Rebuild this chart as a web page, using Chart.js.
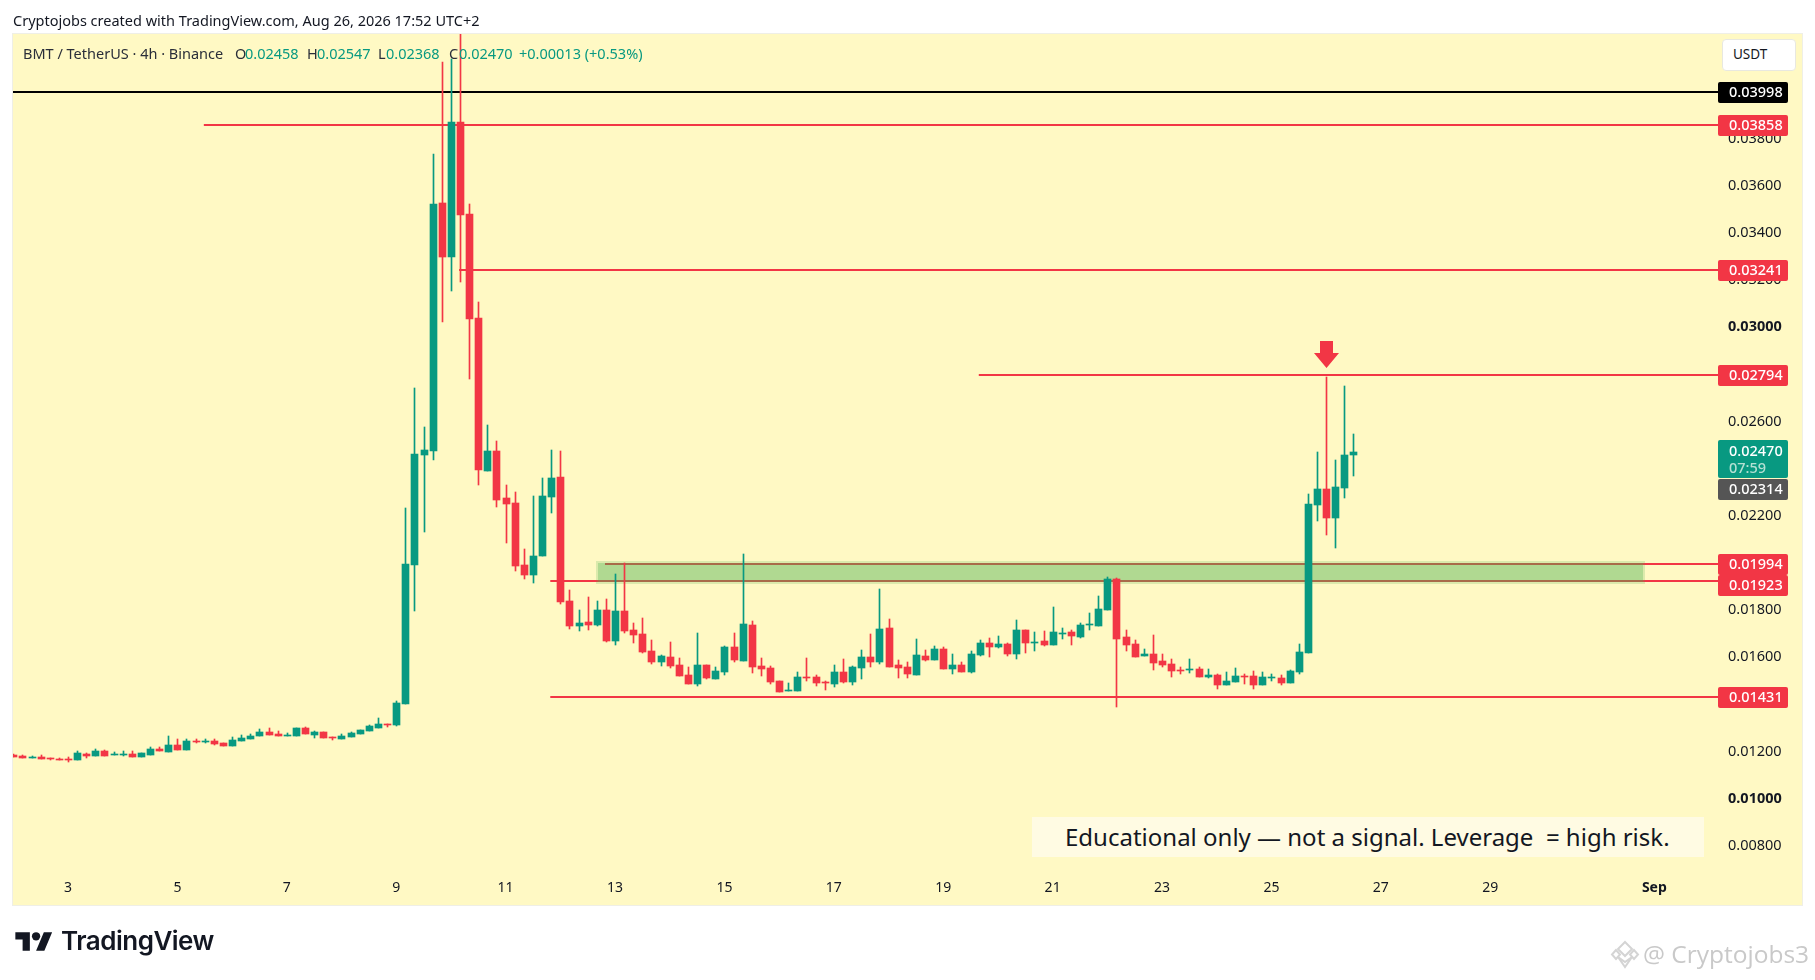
<!DOCTYPE html>
<html>
<head>
<meta charset="utf-8">
<title>BMT / TetherUS 4h</title>
<script src="https://cdn.jsdelivr.net/npm/chart.js@4/dist/chart.umd.min.js"></script>
<style>
    html, body { margin: 0; padding: 0; background: #fff; width: 1815px; height: 980px; overflow: hidden; }
    #chartCanvas { position: absolute; left: 0; top: 0; }
    .txt { position: absolute; white-space: pre; font-family: "Noto Sans", sans-serif; line-height: 1; }
    .lg { font-size: 14.5px; top: 46px; color: #089981; }
    .dark { color: #2a2e39; }
</style>
</head>
<body>
<canvas id="chartCanvas" width="1815" height="980"></canvas>

<div class="txt" style="left:13px;top:13px;font-size:14.5px;color:#131722">Cryptojobs created with TradingView.com, Aug 26, 2026 17:52 UTC+2</div>

<div class="txt lg dark" style="left:23px">BMT / TetherUS · 4h · Binance</div>
<div class="txt lg dark" style="left:235px">O</div><div class="txt lg" style="left:245px">0.02458</div>
<div class="txt lg dark" style="left:307px">H</div><div class="txt lg" style="left:317px">0.02547</div>
<div class="txt lg dark" style="left:378px">L</div><div class="txt lg" style="left:386px">0.02368</div>
<div class="txt lg dark" style="left:449px">C</div><div class="txt lg" style="left:459px">0.02470</div>
<div class="txt lg" style="left:519px">+0.00013 (+0.53%)</div>

<div class="txt" style="left:1722px;top:39px;width:72px;height:30px;background:#fff;border:1px solid #e8e8e0;border-radius:4px"></div>
<div class="txt" style="left:1733px;top:48px;font-size:13.5px;color:#131722">USDT</div>

<div class="txt" style="left:1032px;top:817px;width:672px;height:40px;background:#fffbe3"></div>
<div class="txt" id="note" style="left:1065px;top:825px;font-size:24px;color:#131722">Educational only — not a signal. Leverage  = high risk.</div>

<svg style="position:absolute;left:15px;top:928px" width="38" height="29" viewBox="0 0 36 28"><path d="M14 22H7V11H0V4h14v18zM28 22h-8l7.5-18h8L28 22z" fill="#131722"/><circle cx="20" cy="8" r="4" fill="#131722"/></svg>
<div class="txt" style="left:61px;top:928px;font-family:Inter,sans-serif;font-weight:600;font-size:26px;letter-spacing:-0.5px;color:#131722">TradingView</div>

<svg style="position:absolute;left:1610px;top:940px" width="30" height="29" viewBox="0 0 30 29" fill="none" stroke="#d4d4d4" stroke-width="2"><path d="M15 2l7 7-7 7-7-7z"/><path d="M6 10l-4 4.5 4 4.5 4-4.5z"/><path d="M24 10l-4 4.5 4 4.5 4-4.5z"/><path d="M8 17l7 10 7-10-7 5z"/></svg>
<div class="txt" style="left:1643px;top:942px;font-family:'Open Sans',sans-serif;font-size:24.5px;color:#c9c9c9">@ Cryptojobs3</div>

<script>
// 4h candles, first one is index -6 (2 Aug 00:00), index 0 is the "3" tick
const firstIndex = -6;

const opens = [0.01185,0.01181,0.01172,0.01176,0.01172,0.01168,0.01168,0.01164,0.01189,0.01181,0.01202,0.01185,0.01185,0.01189,0.01176,0.01185,0.01210,0.01198,0.01227,0.01206,0.01244,0.01240,0.01244,0.01236,0.01223,0.01244,0.01253,0.01266,0.01283,0.01274,0.01266,0.01266,0.01300,0.01270,0.01283,0.01261,0.01253,0.01261,0.01274,0.01287,0.01300,0.01316,0.01312,
    0.01401,0.01991,0.02457,0.02474,0.03527,0.03298,0.03871,0.03480,0.03039,0.02390,0.02474,0.02275,0.02254,0.01991,0.01948,0.02029,0.02279,0.02364,0.01838,0.01732,0.01749,0.01736,0.01800,0.01668,0.01796,
    0.01715,0.01698,0.01626,0.01579,0.01601,0.01567,0.01524,0.01486,0.01567,0.01507,0.01537,0.01643,0.01584,0.01736,0.01562,0.01554,0.01499,0.01457,0.01457,0.01516,0.01516,0.01495,0.01486,0.01537,0.01495,0.01554,0.01601,0.01579,0.01724,0.01567,
    0.01558,0.01524,0.01605,0.01588,0.01635,0.01550,0.01567,0.01537,0.01609,0.01660,0.01643,0.01656,0.01613,0.01715,0.01658,0.01669,0.01652,0.01698,0.01707,0.01686,0.01736,0.01732,0.01800,0.01932,0.01685,0.01656,0.01605,0.01613,0.01584,0.01571,0.01545,0.01545,
    0.01550,0.01516,0.01525,0.01482,0.01495,0.01521,0.01521,0.01482,0.01512,0.01512,0.01491,0.01538,0.01618,0.02246,0.02314,0.02191,0.02318,0.02458];
const highs = [0.01189,0.01185,0.01182,0.01185,0.01172,0.01172,0.01176,0.01202,0.01193,0.01210,0.01206,0.01198,0.01202,0.01202,0.01193,0.01219,0.01219,0.01266,0.01253,0.01253,0.01253,0.01253,0.01253,0.01236,0.01261,0.01270,0.01274,0.01295,0.01300,0.01287,0.01278,0.01300,0.01304,0.01287,0.01283,0.01261,0.01274,0.01283,0.01291,0.01312,0.01342,0.01316,0.01414,
    0.02233,0.02742,0.02576,0.03735,0.04125,0.04138,0.04243,0.03523,0.03107,0.02585,0.02517,0.02330,0.02300,0.02059,0.02284,0.02360,0.02479,0.02474,0.01885,0.01800,0.01855,0.01838,0.01847,0.01953,0.01998,
    0.01745,0.01766,0.01673,0.01609,0.01664,0.01596,0.01558,0.01702,0.01567,0.01558,0.01647,0.01702,0.02038,0.01753,0.01596,0.01562,0.01499,0.01490,0.01537,0.01596,0.01524,0.01499,0.01567,0.01592,0.01562,0.01630,0.01698,0.01889,0.01762,0.01588,
    0.01579,0.01677,0.01630,0.01647,0.01643,0.01613,0.01579,0.01626,0.01673,0.01681,0.01690,0.01660,0.01758,0.01715,0.01707,0.01711,0.01813,0.01724,0.01715,0.01745,0.01787,0.01859,0.01940,0.01936,0.01715,0.01673,0.01635,0.01694,0.01613,0.01592,0.01558,0.01592,
    0.01559,0.01550,0.01529,0.01538,0.01555,0.01529,0.01542,0.01538,0.01529,0.01525,0.01546,0.01656,0.02293,0.02471,0.02789,0.02437,0.02751,0.02547];
const lows = [0.01176,0.01172,0.01172,0.01168,0.01164,0.01164,0.01155,0.01164,0.01172,0.01181,0.01181,0.01185,0.01181,0.01176,0.01176,0.01185,0.01202,0.01198,0.01206,0.01206,0.01236,0.01236,0.01227,0.01223,0.01223,0.01244,0.01253,0.01266,0.01270,0.01266,0.01266,0.01266,0.01274,0.01257,0.01257,0.01249,0.01253,0.01261,0.01274,0.01287,0.01300,0.01304,0.01308,
    0.01401,0.01796,0.02131,0.02436,0.03022,0.03155,0.03193,0.02780,0.02330,0.02390,0.02237,0.02084,0.01965,0.01931,0.01914,0.02029,0.02211,0.01825,0.01719,0.01711,0.01715,0.01732,0.01664,0.01651,0.01702,
    0.01660,0.01618,0.01571,0.01562,0.01554,0.01520,0.01486,0.01478,0.01507,0.01507,0.01524,0.01579,0.01584,0.01533,0.01520,0.01486,0.01452,0.01457,0.01457,0.01499,0.01478,0.01461,0.01473,0.01490,0.01482,0.01507,0.01558,0.01571,0.01558,0.01512,
    0.01512,0.01524,0.01584,0.01588,0.01550,0.01529,0.01537,0.01533,0.01605,0.01601,0.01639,0.01605,0.01592,0.01618,0.01626,0.01647,0.01652,0.01677,0.01652,0.01681,0.01715,0.01732,0.01800,0.01389,0.01626,0.01601,0.01605,0.01545,0.01558,0.01516,0.01529,0.01533,
    0.01516,0.01512,0.01465,0.01482,0.01495,0.01487,0.01465,0.01482,0.01499,0.01482,0.01491,0.01529,0.01618,0.02178,0.02119,0.02064,0.02276,0.02368];
const closes = [0.01176,0.01172,0.01178,0.01168,0.01168,0.01164,0.01165,0.01193,0.01181,0.01202,0.01181,0.01189,0.01189,0.01176,0.01193,0.01210,0.01202,0.01227,0.01206,0.01244,0.01240,0.01244,0.01232,0.01223,0.01249,0.01257,0.01266,0.01283,0.01270,0.01266,0.01270,0.01300,0.01274,0.01283,0.01257,0.01257,0.01266,0.01278,0.01291,0.01308,0.01316,0.01312,0.01405,
    0.01995,0.02462,0.02479,0.03523,0.03298,0.03871,0.03476,0.03034,0.02394,0.02474,0.02267,0.02250,0.01987,0.01948,0.02029,0.02284,0.02360,0.01834,0.01732,0.01745,0.01736,0.01800,0.01668,0.01796,0.01711,
    0.01694,0.01622,0.01579,0.01605,0.01562,0.01520,0.01486,0.01567,0.01512,0.01541,0.01643,0.01588,0.01741,0.01558,0.01550,0.01495,0.01452,0.01461,0.01516,0.01512,0.01490,0.01490,0.01537,0.01495,0.01558,0.01601,0.01579,0.01719,0.01558,0.01554,
    0.01529,0.01609,0.01588,0.01635,0.01550,0.01567,0.01537,0.01613,0.01660,0.01643,0.01656,0.01613,0.01715,0.01660,0.01664,0.01652,0.01707,0.01702,0.01690,0.01736,0.01741,0.01804,0.01932,0.01677,0.01652,0.01601,0.01613,0.01575,0.01567,0.01541,0.01541,0.01550,
    0.01516,0.01525,0.01482,0.01499,0.01521,0.01516,0.01482,0.01516,0.01516,0.01491,0.01541,0.01622,0.02250,0.02314,0.02191,0.02322,0.02458,0.02470];

// x axis
const dayTickIndex = [0,12,24,36,48,60,72,84,96,108,120,132,144,156,174];
const dayLabels = ['3','5','7','9','11','13','15','17','19','21','23','25','27','29','Sep'];
const xMin = -6.03, xMax = 180.98;

// y axis
const priceTicks = [0.008,0.010,0.012,0.014,0.016,0.018,0.020,0.022,0.024,0.026,0.028,0.030,0.032,0.034,0.036,0.038,0.040];
const boldPrices = [0.010,0.030];
const yMin = 0.00697, yMax = 0.04244;

// drawn levels: price, first candle index
const levelPrices = [0.03998,0.03858,0.03241,0.02794,0.01994,0.01923,0.01431];
const levelStarts = [xMin,14.9,42.9,99.9,58.9,52.9,52.9];
const levelColors = ['#000000','#f23645','#f23645','#f23645','#f23645','#f23645','#f23645'];

// price tags on the right axis
const tagPrices = [0.03998,0.03858,0.03241,0.02794,0.02314,0.01994,0.01923,0.01431];
const tagColors = ['#000000','#f23645','#f23645','#f23645','#555555','#f23645','#f23645','#f23645'];

// support zone
const zoneTop = 0.02008, zoneBottom = 0.01910, zoneStart = 57.9, zoneEnd = 173;

// arrow marker
const arrowIndex = 138, arrowPrice = 0.02903;

const green = '#089981', red = '#f23645';
const uiFont = '"Noto Sans", sans-serif';

const xs = opens.map((_, i) => firstIndex + i);
const candleColors = opens.map((o, i) => closes[i] >= o ? green : red);

const levelDatasets = levelPrices.map((p, i) => ({
    type: 'line',
    label: 'level ' + p,
    data: [{x: levelStarts[i], y: p}, {x: xMax, y: p}],
    borderColor: levelColors[i],
    borderWidth: 2,
    pointRadius: 0,
    order: 3
}));

// TradingView snaps candles to whole pixels, so do the same here
const snapPlugin = {
    id: 'snap',
    afterDatasetsUpdate(chart) {
        chart.data.datasets.forEach((ds, i) => {
            const meta = chart.getDatasetMeta(i);
            if (ds.type === 'line') {
                meta.data.forEach(pt => { pt.y = Math.round(pt.y - 0.3); });
                return;
            }
            meta.data.forEach(el => {
                el.x = Math.round(el.x) + 0.5;
                let top = Math.round(el.y), base = Math.round(el.base);
                if (Math.abs(base - top) < 1) base = top + 1;
                el.y = top;
                el.base = base;
            });
        });
    }
};

const panePlugin = {
    id: 'pane',
    beforeDraw(chart) {
        const ctx = chart.ctx;
        ctx.save();
        ctx.fillStyle = '#ffffff';
        ctx.fillRect(0, 0, chart.width, chart.height);
        ctx.fillStyle = '#fff9c4';
        ctx.strokeStyle = '#efefe6';
        ctx.fillRect(13, 34, 1789, 871);
        ctx.strokeRect(12.5, 33.5, 1790, 872);
        ctx.restore();
    },
    // zone sits over the level lines but under the candles
    beforeDatasetDraw(chart, args) {
        if (chart.data.datasets[args.index].label !== 'wicks') return;
        const {x, y} = chart.scales;
        const ctx = chart.ctx;
        const l = Math.round(x.getPixelForValue(zoneStart)), r = Math.round(x.getPixelForValue(zoneEnd));
        const t = Math.round(y.getPixelForValue(zoneTop)), b = Math.round(y.getPixelForValue(zoneBottom));
        ctx.save();
        ctx.fillStyle = 'rgba(76,175,80,0.44)';
        ctx.fillRect(l + 2, t + 2, r - l - 4, b - t - 4);
        ctx.strokeStyle = 'rgba(76,175,80,0.2)';
        ctx.lineWidth = 2;
        ctx.strokeRect(l + 1, t + 1, r - l - 2, b - t - 2);
        ctx.restore();
    }
};

const tagsPlugin = {
    id: 'tags',
    afterDraw(chart) {
        const ctx = chart.ctx;
        const y = chart.scales.y, x = chart.scales.x;
        ctx.save();
        ctx.textBaseline = 'middle';
        ctx.textAlign = 'left';
        ctx.font = '500 14.5px ' + uiFont;

        const drawTag = (top, h, color) => {
            ctx.fillStyle = color;
            ctx.beginPath();
            ctx.roundRect(1718, top, 70, h, 2);
            ctx.fill();
        };

        tagPrices.forEach((p, i) => {
            let cy = Math.round(y.getPixelForValue(p) - 0.3);
            if (p === 0.01923) cy = Math.round(y.getPixelForValue(0.01994) - 0.3) + 21; // pushed down by its neighbour
            drawTag(cy - 10, 21, tagColors[i]);
            ctx.fillStyle = '#ffffff';
            ctx.fillText(p.toFixed(5), 1729, cy + 1);
        });

        // last price with the countdown
        const cy = Math.round(y.getPixelForValue(closes[closes.length - 1]));
        drawTag(cy - 12, 38, green);
        ctx.fillStyle = '#ffffff';
        ctx.fillText(closes[closes.length - 1].toFixed(5), 1729, cy);
        ctx.fillStyle = '#b5e0d3';
        ctx.fillText('07:59', 1729, cy + 17);

        // down arrow above the wick
        const ax = Math.round(x.getPixelForValue(arrowIndex)) + 0.5, ay = y.getPixelForValue(arrowPrice);
        ctx.fillStyle = red;
        ctx.beginPath();
        ctx.moveTo(ax - 6.5, ay - 9);
        ctx.lineTo(ax + 6.5, ay - 9);
        ctx.lineTo(ax + 6.5, ay + 3);
        ctx.lineTo(ax + 12.5, ay + 3);
        ctx.lineTo(ax, ay + 18);
        ctx.lineTo(ax - 12.5, ay + 3);
        ctx.lineTo(ax - 6.5, ay + 3);
        ctx.closePath();
        ctx.fill();
        ctx.restore();
    }
};

new Chart(document.getElementById('chartCanvas').getContext('2d'), {
    type: 'bar',
    data: {
        datasets: [
            ...levelDatasets,
            {
                label: 'wicks',
                data: xs.map((v, i) => ({x: v, y: [lows[i], highs[i]]})),
                backgroundColor: candleColors,
                barThickness: 1,
                grouped: false,
                order: 2
            },
            {
                label: 'bodies',
                data: xs.map((v, i) => ({x: v, y: [opens[i], closes[i]]})),
                backgroundColor: candleColors,
                barThickness: 7,
                grouped: false,
                order: 1
            }
        ]
    },
    options: {
        responsive: false,
        animation: false,
        devicePixelRatio: 1,
        layout: {padding: {left: 13, top: 34, right: 13, bottom: 75}},
        plugins: {legend: {display: false}, tooltip: {enabled: false}},
        scales: {
            x: {
                type: 'linear',
                min: xMin,
                max: xMax,
                offset: false,
                grid: {display: false},
                border: {display: false},
                afterBuildTicks: axis => { axis.ticks = dayTickIndex.map(v => ({value: v})); },
                afterFit: axis => { axis.height = 35; },
                ticks: {
                    autoSkip: false,
                    maxRotation: 0,
                    padding: 2,
                    color: '#131722',
                    font: ctx => ({family: uiFont, size: 14, weight: ctx.tick && ctx.tick.value === 174 ? '700' : '400'}),
                    callback: v => dayLabels[dayTickIndex.indexOf(v)]
                }
            },
            y: {
                position: 'right',
                min: yMin,
                max: yMax,
                grid: {display: false},
                border: {display: false},
                afterBuildTicks: axis => { axis.ticks = priceTicks.map(v => ({value: v})); },
                afterFit: axis => { axis.width = 84; },
                ticks: {
                    padding: 2,
                    crossAlign: 'near',
                    color: '#131722',
                    font: ctx => ({family: uiFont, size: 14.5, weight: ctx.tick && boldPrices.includes(ctx.tick.value) ? '700' : '400'}),
                    callback: v => v.toFixed(5)
                }
            }
        }
    },
    plugins: [panePlugin, snapPlugin, tagsPlugin]
});
</script>
</body>
</html>
